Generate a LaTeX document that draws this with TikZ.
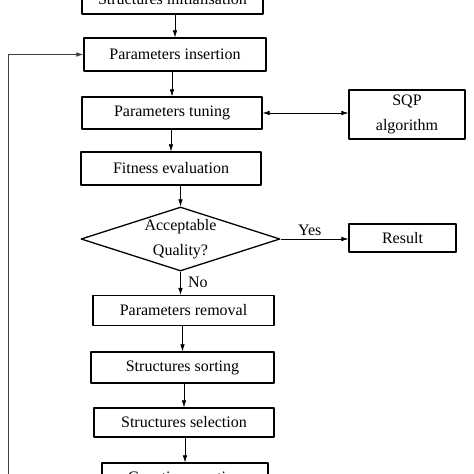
\documentclass[tikz,border=0pt]{standalone}
\usepackage{fontspec}
\setmainfont{Liberation Serif}
\usetikzlibrary{shapes.geometric,arrows.meta}

\begin{document}
\begin{tikzpicture}[x=1pt, y=-1pt, line join=round,
  box/.style={draw, line width=1.3pt, inner sep=0pt, align=center, font=\fontsize{16}{25}\selectfont},
  lbl/.style={font=\fontsize{16}{19}\selectfont},
  flow/.style={line width=0.6pt, -{Latex[length=7pt,width=4.5pt]}},
  twoway/.style={line width=0.6pt, {Latex[length=7pt,width=4.5pt]}-{Latex[length=7pt,width=4.5pt]}}]
\useasboundingbox (0,0) rectangle (474,474);
\clip (0,0) rectangle (474,474);
\node[box, minimum width=181pt, minimum height=30pt] (init) at (172.5,-1) {Structures initialisation};
\node[box, minimum width=182pt, minimum height=33pt] (ins) at (175,54.5) {Parameters insertion};
\node[box, minimum width=180pt, minimum height=32pt] (tun) at (172,113) {Parameters tuning};
\node[box, minimum width=116pt, minimum height=49pt] (sqp) at (407,114.5) {SQP\\algorithm};
\node[box, minimum width=180pt, minimum height=33pt] (fit) at (171,168.5) {Fitness evaluation};
\node[box, shape=diamond, aspect=3.1, minimum width=199pt, minimum height=64pt] (dia) at (180.5,239) {Acceptable\\Quality?};
\node[box, minimum width=107pt, minimum height=28pt] (res) at (402.5,238) {Result};
\node[box, minimum width=181pt, minimum height=30pt] (rem) at (183.5,310.5) {Parameters removal};
\node[box, minimum width=183pt, minimum height=31pt] (sort) at (182.5,367.5) {Structures sorting};
\node[box, minimum width=180pt, minimum height=29pt] (sel) at (184,422.5) {Structures selection};
\node[box, minimum width=166pt, minimum height=31pt] (gen) at (185,478.5) {Genetic operation};
\coordinate (back) at (8,500);
% main chain
\draw[flow] (init.south -| ins) -- (ins);
\draw[flow] (ins.south -| tun) -- (tun);
\draw[flow] (tun.south -| fit) -- (fit);
\draw[flow] (fit.south -| dia) -- (dia);
\draw[flow] (dia.south) -- node[lbl, right, pos=0.44, xshift=4pt] {No} (dia.south |- rem.north);
\draw[flow] (rem.south -| sort) -- (sort);
\draw[flow] (sort.south -| sel) -- (sel);
\draw[flow] (sel.south -| gen) -- (gen);
% side branches
\draw[twoway] (tun.east) -- (tun.east -| sqp.west);
\draw[flow] (dia.east) -- node[lbl, above, pos=0.43] {Yes} (dia.east -| res.west);
% loop back
\draw[flow, black!75] (back) |- (ins);
\end{tikzpicture}
\end{document}
